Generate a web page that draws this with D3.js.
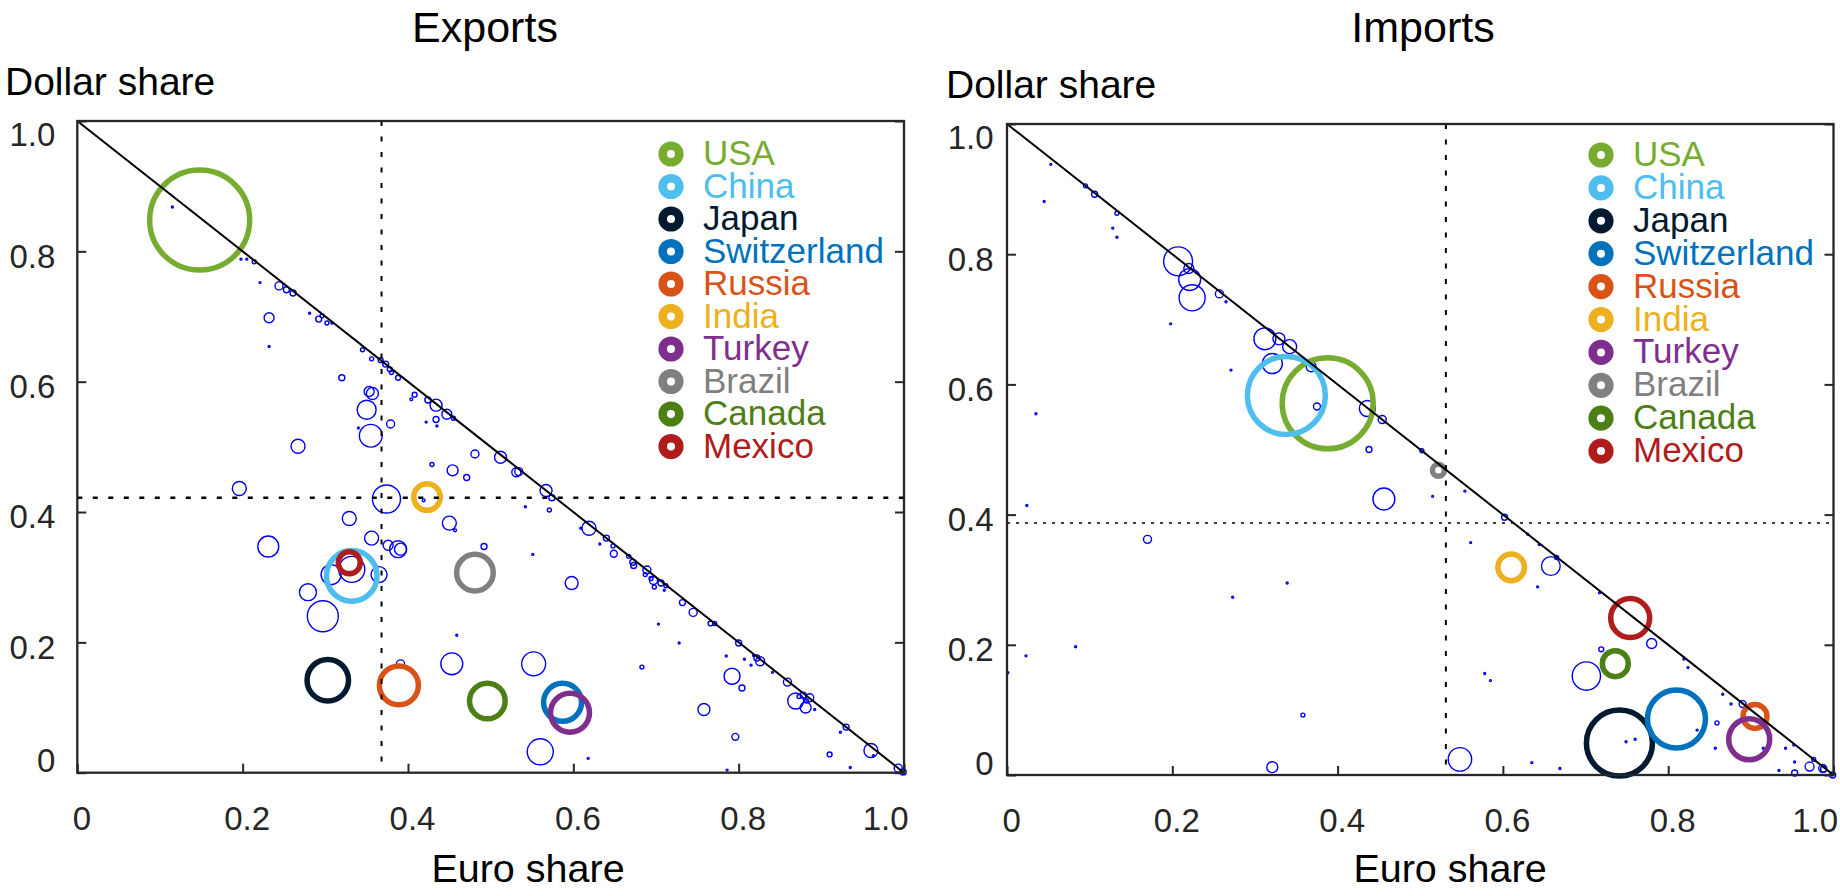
<!DOCTYPE html>
<html>
<head>
<meta charset="utf-8">
<script src="https://cdn.jsdelivr.net/npm/d3@7"></script>
<style>
  body { margin: 0; background: #fff; }
  text { font-family: "Liberation Sans", Arial, sans-serif; }
</style>
</head>
<body>
<svg id="chart" width="1840" height="896"></svg>
<script>
// ---- data -------------------------------------------------------------
var countries = ['USA', 'China', 'Japan', 'Switzerland', 'Russia', 'India', 'Turkey', 'Brazil', 'Canada', 'Mexico'];
var countryColors = ['#77ac30', '#4dbeee', '#021a30', '#0072bd', '#d95319', '#edb120', '#7e2f8e', '#808080', '#4d7f17', '#b01c1c'];

// highlighted countries: euro share, dollar share, trade weight
var exportsCountryEuro = [0.148, 0.332, 0.303, 0.587, 0.389, 0.423, 0.596, 0.481, 0.496, 0.329];
var exportsCountryDollar = [0.848, 0.302, 0.142, 0.108, 0.134, 0.423, 0.092, 0.307, 0.110, 0.322];
var exportsCountryWeight = [25, 6.4, 4.3, 3.6, 3.8, 1.77, 3.8, 3.35, 3.17, 1.21];

var importsCountryEuro = [0.388, 0.338, 0.741, 0.810, 0.905, 0.610, 0.898, 0.522, 0.736, 0.754];
var importsCountryDollar = [0.571, 0.583, 0.049, 0.086, 0.090, 0.319, 0.055, 0.468, 0.171, 0.241];
var importsCountryWeight = [20.7, 15.2, 10.9, 8.4, 1.44, 1.77, 4.2, 0.36, 1.69, 3.8];

// all other countries
var exportsEuro = [0.115, 0.198, 0.205, 0.214, 0.221, 0.244, 0.253, 0.261, 0.232, 0.232, 0.281, 0.292, 0.296, 0.302, 0.308,
  0.320, 0.345, 0.356, 0.367, 0.373, 0.378, 0.380, 0.388, 0.353, 0.357, 0.350, 0.355, 0.340, 0.379, 0.408, 0.404, 0.424,
  0.434, 0.447, 0.455, 0.434, 0.422, 0.435, 0.481, 0.512, 0.531, 0.534, 0.567, 0.574, 0.571, 0.542, 0.267, 0.429, 0.454,
  0.471, 0.196, 0.374, 0.419, 0.329, 0.450, 0.457, 0.356, 0.376, 0.388, 0.391, 0.492, 0.551, 0.231, 0.307, 0.332, 0.365,
  0.279, 0.297, 0.598, 0.619, 0.609, 0.640, 0.648, 0.632, 0.649, 0.667, 0.672, 0.673, 0.689, 0.687, 0.694, 0.697, 0.698,
  0.706, 0.712, 0.710, 0.732, 0.745, 0.766, 0.771, 0.703, 0.728, 0.800, 0.683, 0.785, 0.807, 0.818, 0.815, 0.822, 0.826,
  0.792, 0.804, 0.841, 0.859, 0.869, 0.878, 0.886, 0.881, 0.873, 0.882, 0.892, 0.758, 0.796, 0.930, 0.923, 0.910, 0.960,
  0.963, 0.935, 0.993, 0.999, 0.618, 0.786, 0.453, 0.560, 0.552, 0.391, 0.459];
var exportsDollar = [0.868, 0.788, 0.788, 0.784, 0.752, 0.747, 0.741, 0.736, 0.698, 0.654, 0.705, 0.696, 0.701, 0.690, 0.690,
  0.606, 0.649, 0.635, 0.633, 0.627, 0.619, 0.614, 0.606, 0.585, 0.582, 0.557, 0.517, 0.529, 0.535, 0.580, 0.573, 0.572,
  0.564, 0.550, 0.544, 0.542, 0.538, 0.532, 0.489, 0.484, 0.461, 0.462, 0.433, 0.422, 0.403, 0.408, 0.501, 0.473, 0.464,
  0.453, 0.436, 0.420, 0.418, 0.390, 0.383, 0.372, 0.360, 0.349, 0.343, 0.343, 0.347, 0.335, 0.347, 0.304, 0.312, 0.304,
  0.277, 0.240, 0.291, 0.375, 0.375, 0.360, 0.348, 0.351, 0.336, 0.332, 0.323, 0.318, 0.311, 0.304, 0.298, 0.295, 0.285,
  0.291, 0.287, 0.280, 0.261, 0.246, 0.229, 0.229, 0.228, 0.199, 0.199, 0.162, 0.179, 0.174, 0.180, 0.165, 0.176, 0.171,
  0.148, 0.130, 0.154, 0.139, 0.110, 0.119, 0.115, 0.100, 0.117, 0.110, 0.097, 0.097, 0.055, 0.070, 0.062, 0.028, 0.034,
  0.026, 0.008, 0.007, 0.001, 0.022, 0.004, 0.167, 0.032, 0.167, 0.167, 0.211];
var exportsWeight = [0.01, 0.01, 0.01, 0.04, 0.01, 0.16, 0.09, 0.09, 0.25, 0.01, 0.01, 0.09, 0.04, 0.04, 0.01,
  0.09, 0.04, 0.04, 0.06, 0.09, 0.06, 0.04, 0.06, 0.25, 0.36, 0.9, 1.3, 0.01, 0.16, 0.06, 0.02, 0.09,
  0.36, 0.25, 0.04, 0.09, 0.01, 0.01, 0.16, 0.36, 0.2, 0.16, 0.36, 0.09, 0.04, 0.01, 0.49, 0.04, 0.3,
  0.09, 0.49, 1.96, 0.02, 0.49, 0.49, 0.02, 0.49, 0.25, 0.72, 0.36, 0.09, 0.01, 1.1, 1.0, 1.7, 0.64,
  0.72, 2.4, 0.42, 0.49, 0.01, 0.09, 0.04, 0.01, 0.12, 0.04, 0.09, 0.09, 0.16, 0.04, 0.04, 0.16, 0.04,
  0.09, 0.04, 0.01, 0.09, 0.16, 0.06, 0.04, 0.01, 0.01, 0.09, 0.04, 0.01, 0.01, 0.01, 0.01, 0.09, 0.2,
  0.64, 0.09, 0.01, 0.16, 0.64, 0.09, 0.16, 0.3, 0.04, 0.04, 0.01, 0.36, 0.12, 0.09, 0.01, 0.06, 0.49,
  0.01, 0.01, 0.16, 0.09, 0.01, 0.01, 1.2, 1.7, 1.44, 0.16, 0.01];

var importsEuro = [0.053, 0.095, 0.106, 0.045, 0.133, 0.128, 0.133, 0.207, 0.220, 0.221, 0.224, 0.257, 0.265, 0.198, 0.312,
  0.329, 0.342, 0.321, 0.368, 0.375, 0.271, 0.035, 0.436, 0.454, 0.438, 0.502, 0.456, 0.515, 0.554, 0.602, 0.630, 0.561,
  0.644, 0.665, 0.658, 0.717, 0.170, 0.024, 0.339, 0.273, 0.083, 0.023, 0.001, 0.358, 0.321, 0.548, 0.578, 0.585, 0.635,
  0.669, 0.719, 0.780, 0.701, 0.824, 0.819, 0.866, 0.876, 0.890, 0.859, 0.835, 0.749, 0.760, 0.857, 0.915, 0.942, 0.952,
  0.953, 0.934, 0.953, 0.971, 0.976, 0.987, 0.988, 0.999, 0.642];
var importsDollar = [0.938, 0.905, 0.892, 0.881, 0.863, 0.840, 0.826, 0.789, 0.778, 0.761, 0.733, 0.739, 0.727, 0.693, 0.670,
  0.670, 0.658, 0.632, 0.627, 0.566, 0.622, 0.555, 0.563, 0.546, 0.500, 0.498, 0.424, 0.428, 0.436, 0.396, 0.370, 0.357,
  0.354, 0.334, 0.321, 0.280, 0.362, 0.414, 0.295, 0.273, 0.197, 0.183, 0.157, 0.092, 0.012, 0.024, 0.156, 0.145, 0.019,
  0.010, 0.193, 0.202, 0.152, 0.165, 0.178, 0.124, 0.109, 0.109, 0.080, 0.069, 0.051, 0.055, 0.041, 0.041, 0.041, 0.046,
  0.020, 0.007, 0.003, 0.013, 0.024, 0.010, 0.009, 0.000, 0.289];
var importsWeight = [0.01, 0.04, 0.09, 0.01, 0.04, 0.01, 0.01, 2.1, 0.25, 1.2, 1.7, 0.16, 0.01, 0.01, 1.2,
  0.36, 0.49, 1.0, 0.25, 0.12, 0.01, 0.01, 0.64, 0.16, 0.09, 0.04, 1.2, 0.01, 0.01, 0.09, 0.01, 0.01,
  0.01, 0.04, 0.88, 0.01, 0.16, 0.01, 0.01, 0.01, 0.01, 0.01, 0.01, 0.04, 0.3, 1.37, 0.01, 0.01, 0.01,
  0.01, 0.06, 0.25, 2.0, 0.01, 0.01, 0.01, 0.01, 0.12, 0.04, 0.01, 0.01, 0.01, 0.01, 0.01, 0.01, 0.01,
  0.01, 0.01, 0.09, 0.2, 0.04, 0.16, 0.09, 0.09, 0.01];

// world averages (dotted guide lines)
var exportsAverage = [0.368, 0.422];
var importsAverage = [0.531, 0.387];

var tickValues = [0, 0.2, 0.4, 0.6, 0.8, 1.0];
var tickLabels = ['0', '0.2', '0.4', '0.6', '0.8', '1.0'];

// ---- drawing ----------------------------------------------------------
var svg = d3.select('#chart');
var rScale = d3.scaleSqrt().domain([0, 1]).range([0, 10]);
var axisColor = '#262626';

function zip(a, b, w) {
  return a.map(function (v, i) { return { euro: v, dollar: b[i], weight: w[i] }; });
}

function drawPanel(p) {
  var x = d3.scaleLinear().domain([0, 1]).range([p.left, p.right]);
  var y = d3.scaleLinear().domain([0, 1]).range([p.bottom, p.top]);
  var g = svg.append('g');

  // titles
  g.append('text').attr('x', p.titleX).attr('y', 42)
    .attr('text-anchor', 'middle').attr('font-size', 43).text(p.title);
  g.append('text').attr('x', p.yLabelX).attr('y', p.yLabelY)
    .attr('font-size', 39).text('Dollar share');
  g.append('text').attr('x', p.xLabelX).attr('y', 882)
    .attr('text-anchor', 'middle').attr('font-size', 39.5).text('Euro share');

  // small circles
  g.append('g').selectAll('circle')
    .data(zip(p.euro, p.dollar, p.weight))
    .enter().append('circle')
    .attr('cx', function (d) { return x(d.euro); })
    .attr('cy', function (d) { return y(d.dollar); })
    .attr('r', function (d) { return rScale(d.weight); })
    .attr('fill', 'none')
    .attr('stroke', '#0000ee')
    .attr('stroke-width', 1.4);

  // highlighted countries
  g.append('g').selectAll('circle')
    .data(zip(p.cEuro, p.cDollar, p.cWeight))
    .enter().append('circle')
    .attr('cx', function (d) { return x(d.euro); })
    .attr('cy', function (d) { return y(d.dollar); })
    .attr('r', function (d) { return rScale(d.weight); })
    .attr('fill', 'none')
    .attr('stroke', function (d, i) { return countryColors[i]; })
    .attr('stroke-width', 5.5);

  // diagonal euro + dollar = 1
  g.append('line')
    .attr('x1', x(0)).attr('y1', y(1)).attr('x2', x(1)).attr('y2', y(0))
    .attr('stroke', '#000').attr('stroke-width', 2);

  // average guides
  g.append('line')
    .attr('x1', x(p.avg[0])).attr('x2', x(p.avg[0]))
    .attr('y1', y(1)).attr('y2', y(0))
    .attr('stroke', '#000').attr('stroke-width', 2).attr('stroke-dasharray', '5,10.5');
  g.append('line')
    .attr('x1', x(0)).attr('x2', x(1))
    .attr('y1', y(p.avg[1])).attr('y2', y(p.avg[1]))
    .attr('stroke', '#000').attr('stroke-width', p.hDotWidth).attr('stroke-dasharray', p.hDash);

  // axes, ticks inside
  var last = tickValues.length - 1;
  var xAxis = g.append('g').attr('transform', 'translate(0,' + p.bottom + ')')
    .call(d3.axisBottom(x).tickValues(tickValues).tickSizeInner(-9).tickSizeOuter(0)
      .tickFormat(function (d, i) { return tickLabels[i]; }));
  xAxis.selectAll('text').attr('y', 57).attr('dy', 0)
    .attr('font-size', 33).attr('fill', axisColor)
    .attr('text-anchor', function (d, i) { return i === 0 ? 'start' : (i === last ? 'end' : 'middle'); })
    .attr('x', function (d, i) { return i === 0 ? -5 : 4; });

  var yAxis = g.append('g').attr('transform', 'translate(' + p.left + ',0)')
    .call(d3.axisLeft(y).tickValues(tickValues).tickSizeInner(-9).tickSizeOuter(0)
      .tickFormat(function (d, i) { return tickLabels[i]; }));
  yAxis.selectAll('text').attr('x', -p.yTickPad)
    .attr('font-size', 33).attr('fill', axisColor)
    .attr('dy', function (d, i) { return i === 0 ? '-0.03em' : (i === last ? '0.75em' : '0.48em'); });

  var yRight = g.append('g').attr('transform', 'translate(' + p.right + ',0)')
    .call(d3.axisRight(y).tickValues(tickValues).tickSizeInner(-9).tickSizeOuter(0).tickFormat(''));

  [xAxis, yAxis, yRight].forEach(function (a) {
    a.select('.domain').remove();
    a.selectAll('line').attr('stroke', axisColor).attr('stroke-width', 2);
  });

  // box
  g.append('rect')
    .attr('x', p.left).attr('y', p.top)
    .attr('width', p.right - p.left).attr('height', p.bottom - p.top)
    .attr('fill', 'none').attr('stroke', axisColor).attr('stroke-width', 2.3);

  // legend
  var leg = g.append('g').selectAll('g')
    .data(countries).enter().append('g')
    .attr('transform', function (d, i) { return 'translate(' + p.legX + ',' + (p.legY + i * p.legStep) + ')'; });
  leg.append('circle').attr('r', 8.3).attr('fill', 'none')
    .attr('stroke', function (d, i) { return countryColors[i]; })
    .attr('stroke-width', 8.6);
  leg.append('text').attr('x', 32).attr('y', 11)
    .attr('font-size', 35)
    .attr('fill', function (d, i) { return countryColors[i]; })
    .text(function (d) { return d; });
}

drawPanel({
  title: 'Exports', titleX: 485, yLabelX: 5, yLabelY: 95, xLabelX: 528,
  left: 77.3, right: 904, top: 121, bottom: 772.7, yTickPad: 22,
  euro: exportsEuro, dollar: exportsDollar, weight: exportsWeight,
  cEuro: exportsCountryEuro, cDollar: exportsCountryDollar, cWeight: exportsCountryWeight,
  avg: exportsAverage, hDash: '5,10.5', hDotWidth: 2.4,
  legX: 671, legY: 154, legStep: 32.5
});

drawPanel({
  title: 'Imports', titleX: 1423, yLabelX: 946, yLabelY: 98, xLabelX: 1450,
  left: 1007, right: 1833.5, top: 124, bottom: 775, yTickPad: 13.5,
  euro: importsEuro, dollar: importsDollar, weight: importsWeight,
  cEuro: importsCountryEuro, cDollar: importsCountryDollar, cWeight: importsCountryWeight,
  avg: importsAverage, hDash: '3,6', hDotWidth: 1.5,
  legX: 1601, legY: 155, legStep: 32.9
});
</script>
</body>
</html>
